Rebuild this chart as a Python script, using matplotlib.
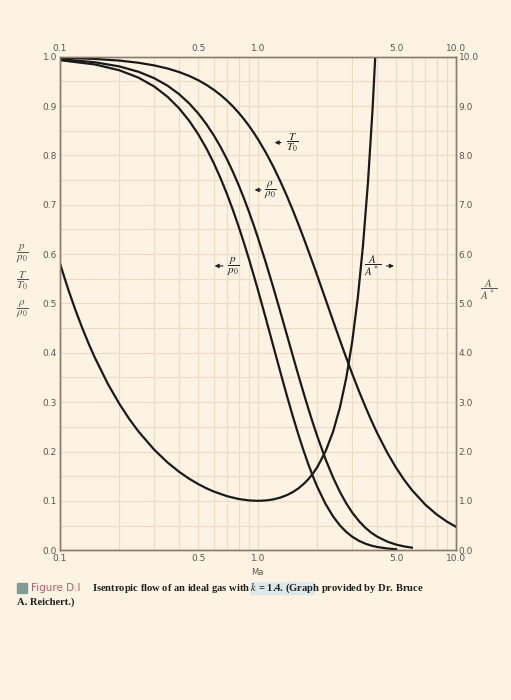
import matplotlib.pyplot as plt
from matplotlib.patches import Rectangle

plt.rcParams['mathtext.fontset'] = 'stix'

# Mach numbers and isentropic ratios (k = 1.4)
ma_t = [0.1, 0.15, 0.2, 0.25, 0.3, 0.35, 0.4, 0.45, 0.5, 0.55, 0.6, 0.65, 0.7,
        0.75, 0.8, 0.85, 0.9, 0.95, 1.0, 1.1, 1.2, 1.3, 1.4, 1.5, 1.6, 1.7, 1.8,
        1.9, 2.0, 2.2, 2.4, 2.6, 2.8, 3.0, 3.25, 3.5, 3.75, 4.0, 4.5, 5.0, 5.5,
        6.0, 7.0, 8.0, 9.0, 10.0]
t_t0 = [0.9980, 0.9955, 0.9921, 0.9877, 0.9823, 0.9761, 0.9690, 0.9611, 0.9524,
        0.9430, 0.9328, 0.9221, 0.9108, 0.8989, 0.8865, 0.8737, 0.8606, 0.8471,
        0.8333, 0.8052, 0.7764, 0.7474, 0.7184, 0.6897, 0.6614, 0.6337, 0.6068,
        0.5807, 0.5556, 0.5081, 0.4647, 0.4252, 0.3894, 0.3571, 0.3213, 0.2899,
        0.2623, 0.2381, 0.1980, 0.1667, 0.1418, 0.1220, 0.0926, 0.0725, 0.0581,
        0.0476]
rho_rho0 = [0.9950, 0.9888, 0.9803, 0.9694, 0.9564, 0.9413, 0.9243, 0.9055,
            0.8852, 0.8634, 0.8405, 0.8164, 0.7916, 0.7660, 0.7400, 0.7136,
            0.6870, 0.6604, 0.6339, 0.5817, 0.5311, 0.4829, 0.4374, 0.3950,
            0.3557, 0.3197, 0.2868, 0.2570, 0.2301, 0.1841, 0.1472, 0.1179,
            0.0946, 0.0762, 0.0585, 0.0452, 0.0352, 0.0277, 0.0175, 0.0113,
            0.0076, 0.0052]
p_p0 = [0.9930, 0.9844, 0.9725, 0.9575, 0.9395, 0.9188, 0.8956, 0.8703, 0.8430,
        0.8142, 0.7840, 0.7528, 0.7209, 0.6886, 0.6560, 0.6235, 0.5913, 0.5595,
        0.5283, 0.4684, 0.4124, 0.3609, 0.3142, 0.2724, 0.2353, 0.2026, 0.1740,
        0.1492, 0.1278, 0.0935, 0.0684, 0.0501, 0.0369, 0.0272, 0.0188, 0.0131,
        0.0092, 0.0066, 0.0035, 0.0019]

ma_a = [0.1, 0.11, 0.12, 0.13, 0.14, 0.15, 0.175, 0.2, 0.225, 0.25, 0.3, 0.35,
        0.4, 0.45, 0.5, 0.55, 0.6, 0.7, 0.8, 0.9, 1.0, 1.1, 1.2, 1.3, 1.4, 1.5,
        1.6, 1.7, 1.8, 1.9, 2.0, 2.2, 2.4, 2.6, 2.8, 3.0, 3.2, 3.4, 3.6, 3.8, 4.0]
a_astar = [5.822, 5.299, 4.864, 4.497, 4.182, 3.910, 3.368, 2.964, 2.651, 2.403,
           2.035, 1.778, 1.590, 1.449, 1.340, 1.255, 1.188, 1.094, 1.038, 1.009,
           1.000, 1.008, 1.030, 1.066, 1.115, 1.176, 1.250, 1.338, 1.439, 1.555,
           1.688, 2.005, 2.403, 2.896, 3.500, 4.235, 5.121, 6.184, 7.450, 8.951,
           10.72]

x_ticks = [0.1, 0.5, 1.0, 5.0, 10.0]
x_labels = ['0.1', '0.5', '1.0', '5.0', '10.0']
x_grid = [0.2, 0.3, 0.4, 0.6, 0.7, 0.8, 0.9, 2, 3, 4, 6, 7, 8, 9]

bg = '#fdf3e3'
gridc = '#ecdcc3'
txt = '#5a5550'
frame = '#8b7b6e'
ink = '#1a1a1a'

fig = plt.figure(figsize=(5.11, 7.0), dpi=100, facecolor=bg)
ax = fig.add_axes([0.117, 0.214, 0.775, 0.705], facecolor=bg)

ax.set_xscale('log')
ax.set_xlim(0.1, 10)
ax.set_ylim(0, 1)

# Gitter
for xv in x_grid + x_ticks:
    ax.axvline(xv, color=gridc, lw=0.8, zorder=0)
for i in range(1, 20):
    ax.axhline(i * 0.05, color=gridc, lw=0.8, zorder=0)

# Kurven
kw = dict(color=ink, lw=1.6, zorder=3, solid_joinstyle='round')
ax.plot(ma_t, t_t0, **kw)
ax.plot(ma_t[:len(rho_rho0)], rho_rho0, **kw)
ax.plot(ma_t[:len(p_p0)], p_p0, **kw)
ax.plot(ma_a, [a / 10 for a in a_astar], **kw)

# Achsenbeschriftung
ax.set_xticks(x_ticks)
ax.set_xticklabels(x_labels)
ax.xaxis.set_minor_locator(plt.NullLocator())
ax.set_yticks([i / 10 for i in range(11)])
ax.set_yticklabels(['%.1f' % (i / 10) for i in range(11)])
ax.tick_params(axis='both', length=0, labelsize=6.5, colors=txt, pad=2)
ax.tick_params(axis='x', labeltop=True, pad=3)
ax2 = ax.twinx()
ax2.set_ylim(0, 10)
ax2.set_yticks(range(11))
ax2.set_yticklabels(['%.1f' % i for i in range(11)])
ax2.tick_params(axis='y', length=0, labelsize=6.5, colors=txt, pad=2)
for a in (ax, ax2):
    for s in a.spines.values():
        s.set_color(frame)
        s.set_linewidth(1.0)
ax.set_xlabel('Ma', fontsize=6, color=txt, labelpad=3)

# Kurvenbeschriftung
arr = dict(arrowstyle='-|>', color='#222222', lw=0.8, mutation_scale=6)
lab = dict(color='#222222', fontsize=8, ha='center', va='center')
ax.annotate('', xy=(1.177, 0.826), xytext=(1.353, 0.826), arrowprops=arr)
ax.text(1.485, 0.826, r'$\dfrac{T}{T_0}$', **lab)
ax.annotate('', xy=(0.933, 0.730), xytext=(1.072, 0.730), arrowprops=arr)
ax.text(1.15, 0.730, r'$\dfrac{\rho}{\rho_0}$', **lab)
ax.annotate('', xy=(0.586, 0.576), xytext=(0.689, 0.576), arrowprops=arr)
ax.text(0.756, 0.576, r'$\dfrac{p}{p_0}$', **lab)
ax.text(3.81, 0.576, r'$\dfrac{A}{A^*}$', **lab)
ax.annotate('', xy=(5.03, 0.576), xytext=(4.33, 0.576), arrowprops=arr)

# Seitenbeschriftung
side = dict(color=txt, fontsize=8, ha='center', va='center')
fig.text(0.043, 1 - 253 / 700, r'$\dfrac{p}{p_0}$', **side)
fig.text(0.043, 1 - 281 / 700, r'$\dfrac{T}{T_0}$', **side)
fig.text(0.043, 1 - 309 / 700, r'$\dfrac{\rho}{\rho_0}$', **side)
fig.text(0.957, 1 - 290 / 700, r'$\dfrac{A}{A^*}$', **side)

# Bildunterschrift
fig.patches.append(Rectangle((17 / 511, 1 - 593 / 700), 10 / 511, 10 / 700,
                             transform=fig.transFigure, color='#7f9c99', figure=fig))
fig.patches.append(Rectangle((250 / 511, 1 - 594 / 700), 64 / 511, 12 / 700,
                             transform=fig.transFigure, color='#dde8ea', figure=fig))
fig.text(31 / 511, 1 - 588 / 700, 'Figure D.I', color='#c7566d', fontsize=7.5,
         va='center', ha='left')
fig.text(92 / 511, 1 - 588 / 700,
         'Isentropic flow of an ideal gas with $k$ = 1.4. (Graph provided by Dr. Bruce',
         family='Liberation Serif', weight='bold', fontsize=7.6, color='#1f1f1f',
         va='center', ha='left')
fig.text(17 / 511, 1 - 602 / 700, 'A. Reichert.)', family='Liberation Serif',
         weight='bold', fontsize=7.6, color='#1f1f1f', va='center', ha='left')

fig.savefig('out.png', dpi=100, facecolor=bg)
